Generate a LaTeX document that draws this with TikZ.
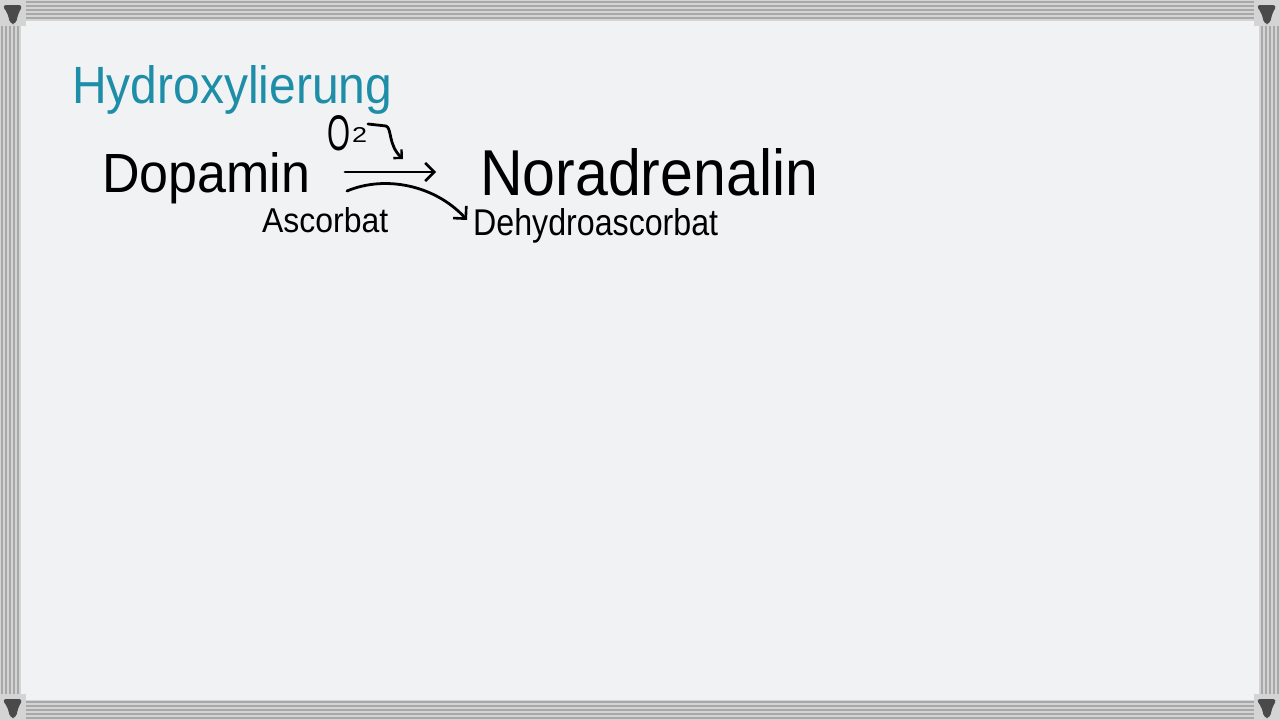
\documentclass[tikz,border=0pt]{standalone}
\usepackage{fontspec}
\setmainfont{Liberation Sans}
\usepackage{graphicx}
\usetikzlibrary{arrows.meta}
\definecolor{board}{HTML}{F1F2F3}
\definecolor{titleteal}{HTML}{1E8EA8}
\definecolor{frameA}{HTML}{D4D4D4}
\definecolor{frameB}{HTML}{A8A8A8}
\definecolor{capgray}{HTML}{4A4A4A}
\tikzset{
  hw/.style={inner sep=0pt, anchor=base west},
  ink/.style={line width=2.8pt, line cap=round, line join=round, black},
  barb/.style={-{Straight Barb[length=9pt,width=18pt,line width=2.6pt]}},
  smallbarb/.style={-{Straight Barb[length=6pt,width=12pt,line width=2.4pt]}},
}
\newcommand{\hwtext}[3]{\resizebox{#1pt}{#2pt}{\fontsize{40}{40}\selectfont #3}}
\begin{document}
\begin{tikzpicture}[x=1pt,y=-1pt]
\useasboundingbox (0,0) rectangle (1280,720);
% frame
\fill[frameA] (0,0) rectangle (1280,720);
\foreach \i in {2,6,10,14,18}{
  \draw[frameB, line width=1.6pt] (0,\i) -- (1280,\i);
  \draw[frameB, line width=1.6pt] (0,720-\i) -- (1280,720-\i);
  \draw[frameB, line width=1.6pt] (\i,0) -- (\i,720);
  \draw[frameB, line width=1.6pt] (1280-\i,0) -- (1280-\i,720);
}
\fill[board] (21,21) rectangle (1259,700);
% corner caps
\foreach \cx/\cy in {13/13, 1267/13, 13/707, 1267/707}{
  \fill[frameA] (\cx-13,\cy-13) rectangle (\cx+13,\cy+13);
  \fill[capgray, rounded corners=4pt] (\cx-11,\cy-8) -- (\cx+10,\cy-8) -- (\cx+5,\cy+1) -- (\cx+3,\cy+11) -- (\cx-3,\cy+11) -- (\cx-5,\cy+1) -- cycle;
}
% texts
\node[hw, text=titleteal] (title) at (72,103) {\hwtext{320}{38}{Hydroxylierung}};
\node[hw] (dopa) at (102,192) {\hwtext{208}{40}{Dopamin}};
\node[hw] (nora) at (480,195) {\hwtext{338}{47}{Noradrenalin}};
\node[hw] (asc) at (262,232) {\hwtext{126}{25}{Ascorbat}};
\node[hw] (dehy) at (473,235) {\hwtext{245}{27}{Dehydroascorbat}};
\node[hw] (oxy) at (327,150) {\hwtext{23}{35}{O}};
\node[hw] (two) at (352,142) {\hwtext{15}{15}{2}};
% connectors
\coordinate (mainS) at (345,172);
\coordinate (mainE) at (436,172);
\draw[ink, barb] (mainS) -- (mainE);
\coordinate (hookS) at (368,124);
\coordinate (hookE) at (403,159);
\draw[ink, smallbarb] (hookS) -- (386,126) .. controls (392,128) and (388,145) .. (hookE);
\coordinate (curS) at (347,191);
\coordinate (curE) at (467,220);
\draw[ink, barb] (curS) .. controls (385,175) and (435,185) .. (curE);
\end{tikzpicture}
\end{document}
